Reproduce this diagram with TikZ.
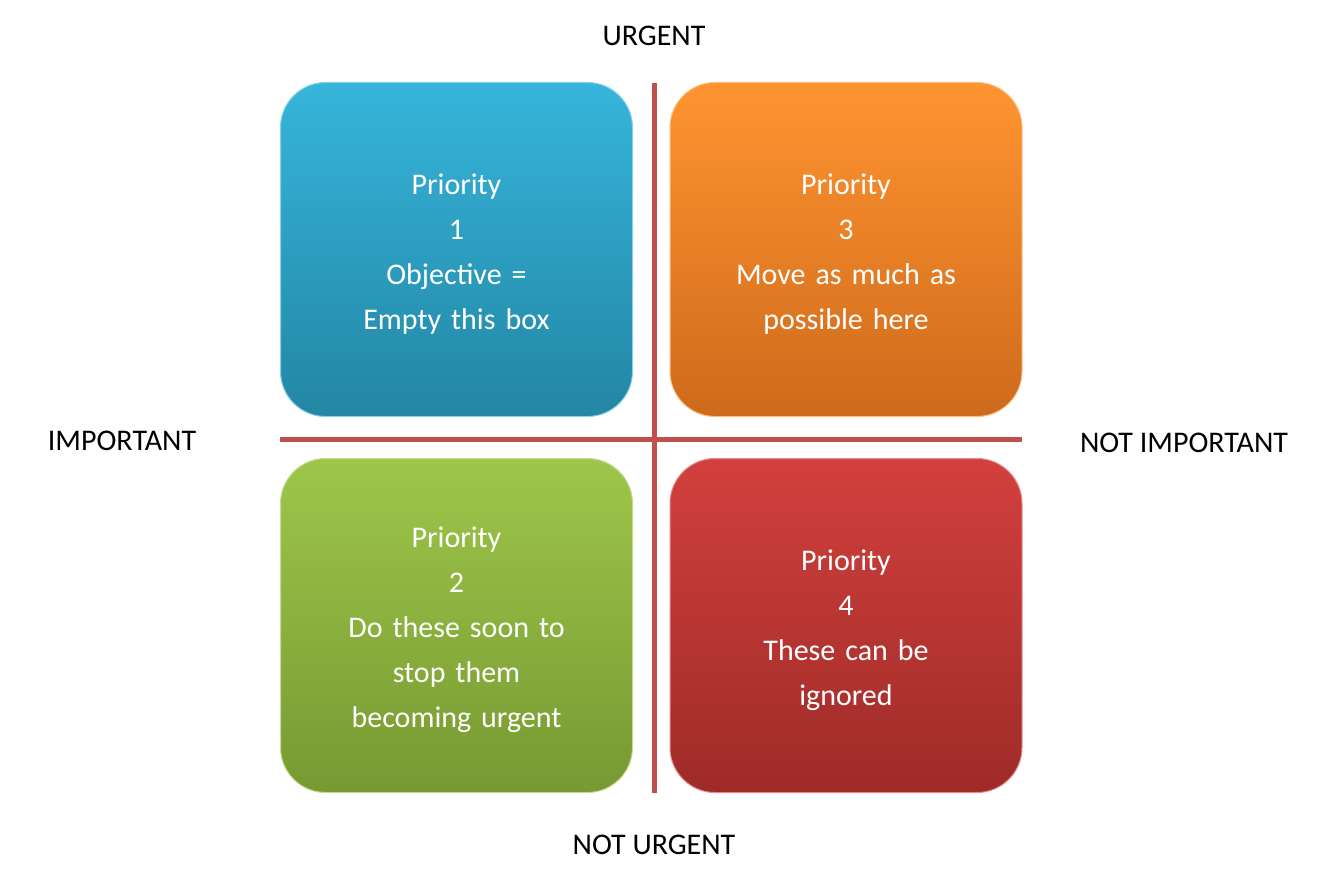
\documentclass[tikz,border=0pt]{standalone}
\usepackage{fontspec}
\setmainfont{Carlito}
\begin{document}
\begin{tikzpicture}[x=1pt,y=-1pt,
  quad/.style={rounded corners=45pt,minimum width=352pt,minimum height=334pt,draw=#1!60!white,line width=1pt,inner sep=0pt},
  qtext/.style={text=white,font=\fontsize{30}{45}\selectfont,align=center,text width=340pt},
  axis/.style={font=\fontsize{30}{36}\selectfont,text=black}]
\definecolor{bT}{HTML}{36B5DB}\definecolor{bB}{HTML}{2386A4}
\definecolor{oT}{HTML}{FF9430}\definecolor{oB}{HTML}{CE6A1C}
\definecolor{gT}{HTML}{9EC64A}\definecolor{gB}{HTML}{779932}
\definecolor{rT}{HTML}{D2403D}\definecolor{rB}{HTML}{9E2B28}
\definecolor{ax}{HTML}{C0504D}
\useasboundingbox (0,0) rectangle (1338,890);
\node[quad=bT,top color=bT,bottom color=bB] (q1) at (456.5,249.5) {};
\node[quad=oT,top color=oT,bottom color=oB] (q3) at (846,249.5) {};
\node[quad=gT,top color=gT,bottom color=gB] (q2) at (456.5,625.5) {};
\node[quad=rT,top color=rT,bottom color=rB] (q4) at (846,625.5) {};
\node[qtext] (t1) at (456.5,254) {Priority\\1\\Objective =\\Empty this box};
\node[qtext] (t3) at (846,254) {Priority\\3\\Move as much as\\possible here};
\node[qtext] (t2) at (456.5,630) {Priority\\2\\Do these soon to\\stop them\\becoming urgent};
\node[qtext] (t4) at (846,630) {Priority\\4\\These can be\\ignored};
\coordinate (vt) at (654,83); \coordinate (vb) at (654,793);
\coordinate (hl) at (280,439); \coordinate (hr) at (1022,439);
\draw[ax,line width=5pt] (vt) -- (vb);
\draw[ax,line width=5pt] (hl) -- (hr);
\node[axis] (u) at (654,36) {URGENT};
\node[axis] (nu) at (654,845) {NOT URGENT};
\node[axis] (im) at (122,441) {IMPORTANT};
\node[axis] (ni) at (1184,443) {NOT IMPORTANT};
\end{tikzpicture}
\end{document}
